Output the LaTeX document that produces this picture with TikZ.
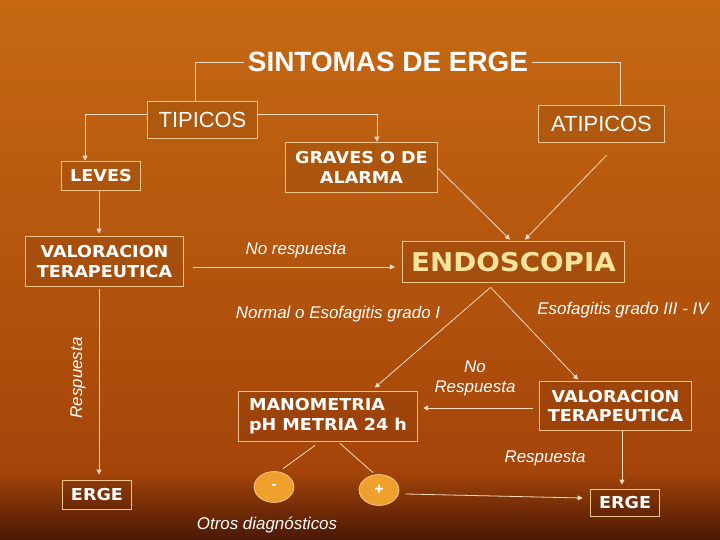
\documentclass[tikz,border=0pt]{standalone}
\usepackage{fontspec}
\setmainfont{Liberation Sans}
\newfontfamily\gruesa[FakeStretch=1.07]{DejaVu Sans}
\usetikzlibrary{arrows.meta,shapes.geometric}
\definecolor{borde}{HTML}{F2C58E}
\definecolor{trazo}{HTML}{F7DCC0}
\definecolor{amarillo}{HTML}{FAE49C}
\definecolor{naranja}{HTML}{F0A02C}
\definecolor{fondoA}{HTML}{C66912}
\definecolor{fondoB}{HTML}{A5450A}
\definecolor{fondoC}{HTML}{4A1804}
\newcommand{\negrita}{\gruesa\bfseries\fontsize{16.5}{20}\selectfont}
\newcommand{\cursiva}{\itshape\fontsize{17}{20}\selectfont}
\newcommand{\normalita}{\fontsize{22}{24}\selectfont}
\tikzstyle{caja} = [rectangle, draw=borde, line width=0.9pt, fill=black, fill opacity=0.07, text opacity=1, text=white, align=center, inner sep=0pt]
\tikzstyle{negra} = [font=\negrita]
\tikzstyle{fina} = [font=\normalita]
\tikzstyle{etiqueta} = [text=white, font=\cursiva, inner sep=0pt]
\tikzstyle{raya} = [draw=trazo, line width=0.8pt]
\tikzstyle{flecha} = [raya, -{Triangle[length=5bp,width=5bp]}]
\tikzstyle{signo} = [ellipse, draw=borde, line width=0.8pt, fill=naranja, minimum width=40, minimum height=31, inner sep=0pt, text=white, font=\bfseries\fontsize{16}{18}\selectfont]

\begin{document}
\begin{tikzpicture}[x=1bp,y=-1bp]
				% fondo
				\shade[top color=fondoA, bottom color=fondoB] (0,0) rectangle (720,470);
				\shade[top color=fondoB, bottom color=fondoC] (0,470) rectangle (720,540);
				\useasboundingbox (0,0) rectangle (720,540);
				% cajas
				\node[text=white, font=\bfseries\fontsize{28}{30}\selectfont, inner sep=4pt] (tit) at (388,62) {SINTOMAS DE ERGE};
				\node[caja, fina, minimum width=111, minimum height=38] (tip) at (202.5,120) {TIPICOS};
				\node[caja, fina, minimum width=127, minimum height=38] (atip) at (601.5,124) {ATIPICOS};
				\node[caja, negra, minimum width=153, minimum height=51] (grav) at (361.5,167.5) {GRAVES O DE\\ALARMA};
				\node[caja, negra, minimum width=80, minimum height=30] (lev) at (101,176) {LEVES};
				\node[caja, negra, minimum width=159, minimum height=51] (val1) at (104.5,261.5) {VALORACION\\TERAPEUTICA};
				\node[caja, minimum width=223, minimum height=42, text=amarillo, font=\gruesa\bfseries\fontsize{26}{28}\selectfont] (endo) at (513.5,262) {ENDOSCOPIA};
				\node[caja, negra, minimum width=153, minimum height=50] (val2) at (615.5,406) {VALORACION\\TERAPEUTICA};
				\node[caja, negra, minimum width=180, minimum height=51, align=left] (mano) at (328,416.5) {MANOMETRIA\\pH METRIA 24 h};
				\node[caja, negra, minimum width=70, minimum height=29] (erge1) at (97,494.5) {ERGE};
				\node[caja, negra, minimum width=70, minimum height=27] (erge2) at (625,502.5) {ERGE};
				\node[signo] (menos) at (274,487) {-};
				\node[signo] (mas) at (379,490) {+};
				% etiquetas
				\node[etiqueta] (nr1) at (296,250) {No respuesta};
				\node[etiqueta] (normal) at (338,314) {Normal o Esofagitis grado I};
				\node[etiqueta] (eso) at (623,310) {Esofagitis grado III - IV};
				\node[etiqueta, align=center] (nr2) at (475,378) {No\\Respuesta};
				\node[etiqueta, rotate=90] (resp1) at (78,378) {Respuesta};
				\node[etiqueta] (resp2) at (545,458) {Respuesta};
				\node[etiqueta] (otros) at (267,525) {Otros diagnósticos};
				% conexiones
				\draw[raya] (tit.west) -| ([xshift=-7.5]tip.north);
				\draw[raya] (tit.east) -| ([xshift=18.5]atip.north);
				\draw[flecha] ([yshift=6]tip.east) -| ([xshift=15.5]grav.north);
				\draw[flecha] ([yshift=6]tip.west) -| ([xshift=-16]lev.north);
				\draw[flecha, shorten >=2] ([xshift=-2]lev.south) -- ([xshift=-2]lev.south |- val1.north);
				\draw[flecha, shorten <=9, shorten >=7] ([yshift=-5.5]val1.east) -- ([yshift=-5.5]val1.east -| endo.west);
				\draw[flecha] ([yshift=-1]grav.east) -- ([xshift=-3.5,yshift=1]endo.north);
				\draw[flecha] ([xshift=5,yshift=-12]atip.south) -- ([xshift=11.5,yshift=1]endo.north);
				\coordinate (bif) at ([xshift=-23,yshift=-4]endo.south);
				\draw[flecha] (bif) -- ([xshift=47,yshift=3]mano.north);
				\draw[flecha] (bif) -- ([xshift=-37.5,yshift=1]val2.north);
				\draw[flecha, shorten <=6, shorten >=5] ([yshift=-2]val2.west) -- ([yshift=-2]val2.west -| mano.east);
				\draw[flecha, shorten >=4] ([xshift=6.5]val2.south) -- ([xshift=6.5]val2.south |- erge2.north);
				\draw[flecha, shorten <=2, shorten >=5] ([xshift=-5.5]val1.south) -- ([xshift=-5.5]val1.south |- erge1.north);
				\draw[raya] ([xshift=-13,yshift=-3]mano.south) -- ([xshift=9,yshift=2.5]menos.north);
				\draw[raya] ([xshift=12,yshift=-1]mano.south) -- ([xshift=-6,yshift=1.5]mas.north);
				\draw[flecha] ([xshift=6,yshift=-4]mas.east) -- ([xshift=-7,yshift=4.5]erge2.west);
			\end{tikzpicture}
\end{document}
